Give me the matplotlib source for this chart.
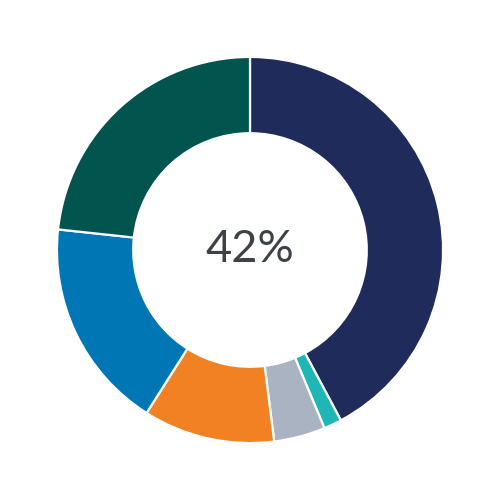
import matplotlib
matplotlib.use("Agg")
import matplotlib.pyplot as plt

# segment shares (percent), clockwise from 12 o'clock
shares = [42.2, 1.5, 4.3, 11.0, 17.7, 23.3]
colors = ['#1e2b5b', '#1fb7b5', '#a9b3c1', '#f28123', '#0076b5', '#02544f']
center_label = '42%'

fig = plt.figure(figsize=(5, 5), dpi=100)
ax = fig.add_axes([0, 0, 1, 1])
ax.pie(shares, colors=colors, startangle=90, counterclock=False,
       radius=1.0, wedgeprops=dict(width=0.395, edgecolor='white', linewidth=1.6))
ax.text(0, 0.0, center_label, ha='center', va='center', fontsize=32.5,
        family=['Lato', 'DejaVu Sans'], color='#3c4246')
ax.set_xlim(-1.295, 1.295)
ax.set_ylim(-1.295, 1.295)
ax.set_aspect('equal')
ax.axis('off')

fig.savefig('out.png', dpi=100, facecolor='white')
